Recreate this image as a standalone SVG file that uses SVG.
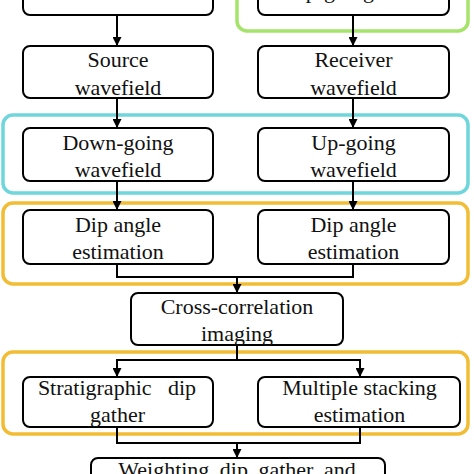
<svg xmlns="http://www.w3.org/2000/svg" width="474" height="474" viewBox="0 0 474 474">
<defs>
<marker id="ah" viewBox="0 0 10 10" refX="10" refY="5" markerWidth="9" markerHeight="9" markerUnits="userSpaceOnUse" orient="auto">
<path d="M0,0 L10,5 L0,10 Z" fill="#000"/>
</marker>
<style>
.box{fill:#fff;stroke:#000;stroke-width:2}
.grp{fill:none;stroke-width:3.5}
.t{font-family:"Liberation Serif","Times New Roman",serif;font-size:22px;fill:#111;text-anchor:middle}
.c{fill:none;stroke:#000;stroke-width:2}
</style>
</defs>
<rect width="474" height="474" fill="#fff"/>
<g id="groups">
<rect class="grp" x="237" y="-20" width="231" height="51" rx="10" stroke="#a6e36a"/>
<rect class="grp" x="3" y="115" width="465" height="78" rx="10" stroke="#6fd6dc"/>
<rect class="grp" x="3" y="203" width="465" height="81" rx="10" stroke="#f2bd35"/>
<rect class="grp" x="3" y="352" width="465" height="82" rx="10" stroke="#f2bd35"/>
</g>
<g id="connectors">
<line class="c" x1="117" y1="15" x2="117" y2="46" marker-end="url(#ah)"/>
<line class="c" x1="353" y1="15" x2="353" y2="46" marker-end="url(#ah)"/>
<line class="c" x1="117" y1="98" x2="117" y2="128" marker-end="url(#ah)"/>
<line class="c" x1="353" y1="98" x2="353" y2="128" marker-end="url(#ah)"/>
<line class="c" x1="117" y1="181" x2="117" y2="210" marker-end="url(#ah)"/>
<line class="c" x1="353" y1="181" x2="353" y2="210" marker-end="url(#ah)"/>
<polyline class="c" points="117,264 117,277 353,277 353,264"/>
<line class="c" x1="237" y1="277" x2="237" y2="293" marker-end="url(#ah)"/>
<polyline class="c" points="237,345 237,360 117,360 117,377" marker-end="url(#ah)"/>
<polyline class="c" points="237,360 360,360 360,377" marker-end="url(#ah)"/>
<polyline class="c" points="117,427 117,443 360,443 360,427"/>
<line class="c" x1="237" y1="443" x2="237" y2="458" marker-end="url(#ah)"/>
</g>
<g id="n-top-left">
<rect class="box" x="23" y="-40" width="190" height="55" rx="7"/>
</g>
<g id="n-top-right">
<rect class="box" x="258" y="-40" width="191" height="55" rx="7"/>
<text class="t" x="353" y="-2">Up-going data</text>
</g>
<g id="n-source">
<rect class="box" x="23" y="46" width="190" height="52" rx="7"/>
<text class="t" x="118" y="67">Source</text>
<text class="t" x="118" y="94.5">wavefield</text>
</g>
<g id="n-receiver">
<rect class="box" x="258" y="46" width="191" height="52" rx="7"/>
<text class="t" x="353.5" y="67">Receiver</text>
<text class="t" x="353.5" y="94.5">wavefield</text>
</g>
<g id="n-down">
<rect class="box" x="23" y="128" width="190" height="53" rx="7"/>
<text class="t" x="118" y="149.5">Down-going</text>
<text class="t" x="118" y="177">wavefield</text>
</g>
<g id="n-up">
<rect class="box" x="258" y="128" width="191" height="53" rx="7"/>
<text class="t" x="353.5" y="149.5">Up-going</text>
<text class="t" x="353.5" y="177">wavefield</text>
</g>
<g id="n-dip-left">
<rect class="box" x="23" y="210" width="190" height="54" rx="7"/>
<text class="t" x="118" y="231.5">Dip angle</text>
<text class="t" x="118" y="259">estimation</text>
</g>
<g id="n-dip-right">
<rect class="box" x="258" y="210" width="191" height="54" rx="7"/>
<text class="t" x="353.5" y="231.5">Dip angle</text>
<text class="t" x="353.5" y="259">estimation</text>
</g>
<g id="n-cross">
<rect class="box" x="131" y="293" width="212" height="52" rx="7"/>
<text class="t" x="237" y="313.5">Cross-correlation</text>
<text class="t" x="237" y="341">imaging</text>
</g>
<g id="n-strat">
<rect class="box" x="23" y="377" width="190" height="50" rx="7"/>
<text class="t" x="117" y="395" word-spacing="11">Stratigraphic dip</text>
<text class="t" x="117.5" y="421.5">gather</text>
</g>
<g id="n-multi">
<rect class="box" x="258" y="377" width="202" height="50" rx="7"/>
<text class="t" x="359.5" y="395">Multiple stacking</text>
<text class="t" x="359.5" y="421.5">estimation</text>
</g>
<g id="n-weight">
<rect class="box" x="91" y="458" width="294" height="50" rx="7"/>
<text class="t" x="237" y="477" word-spacing="5">Weighting dip gather and</text>
</g>
</svg>
